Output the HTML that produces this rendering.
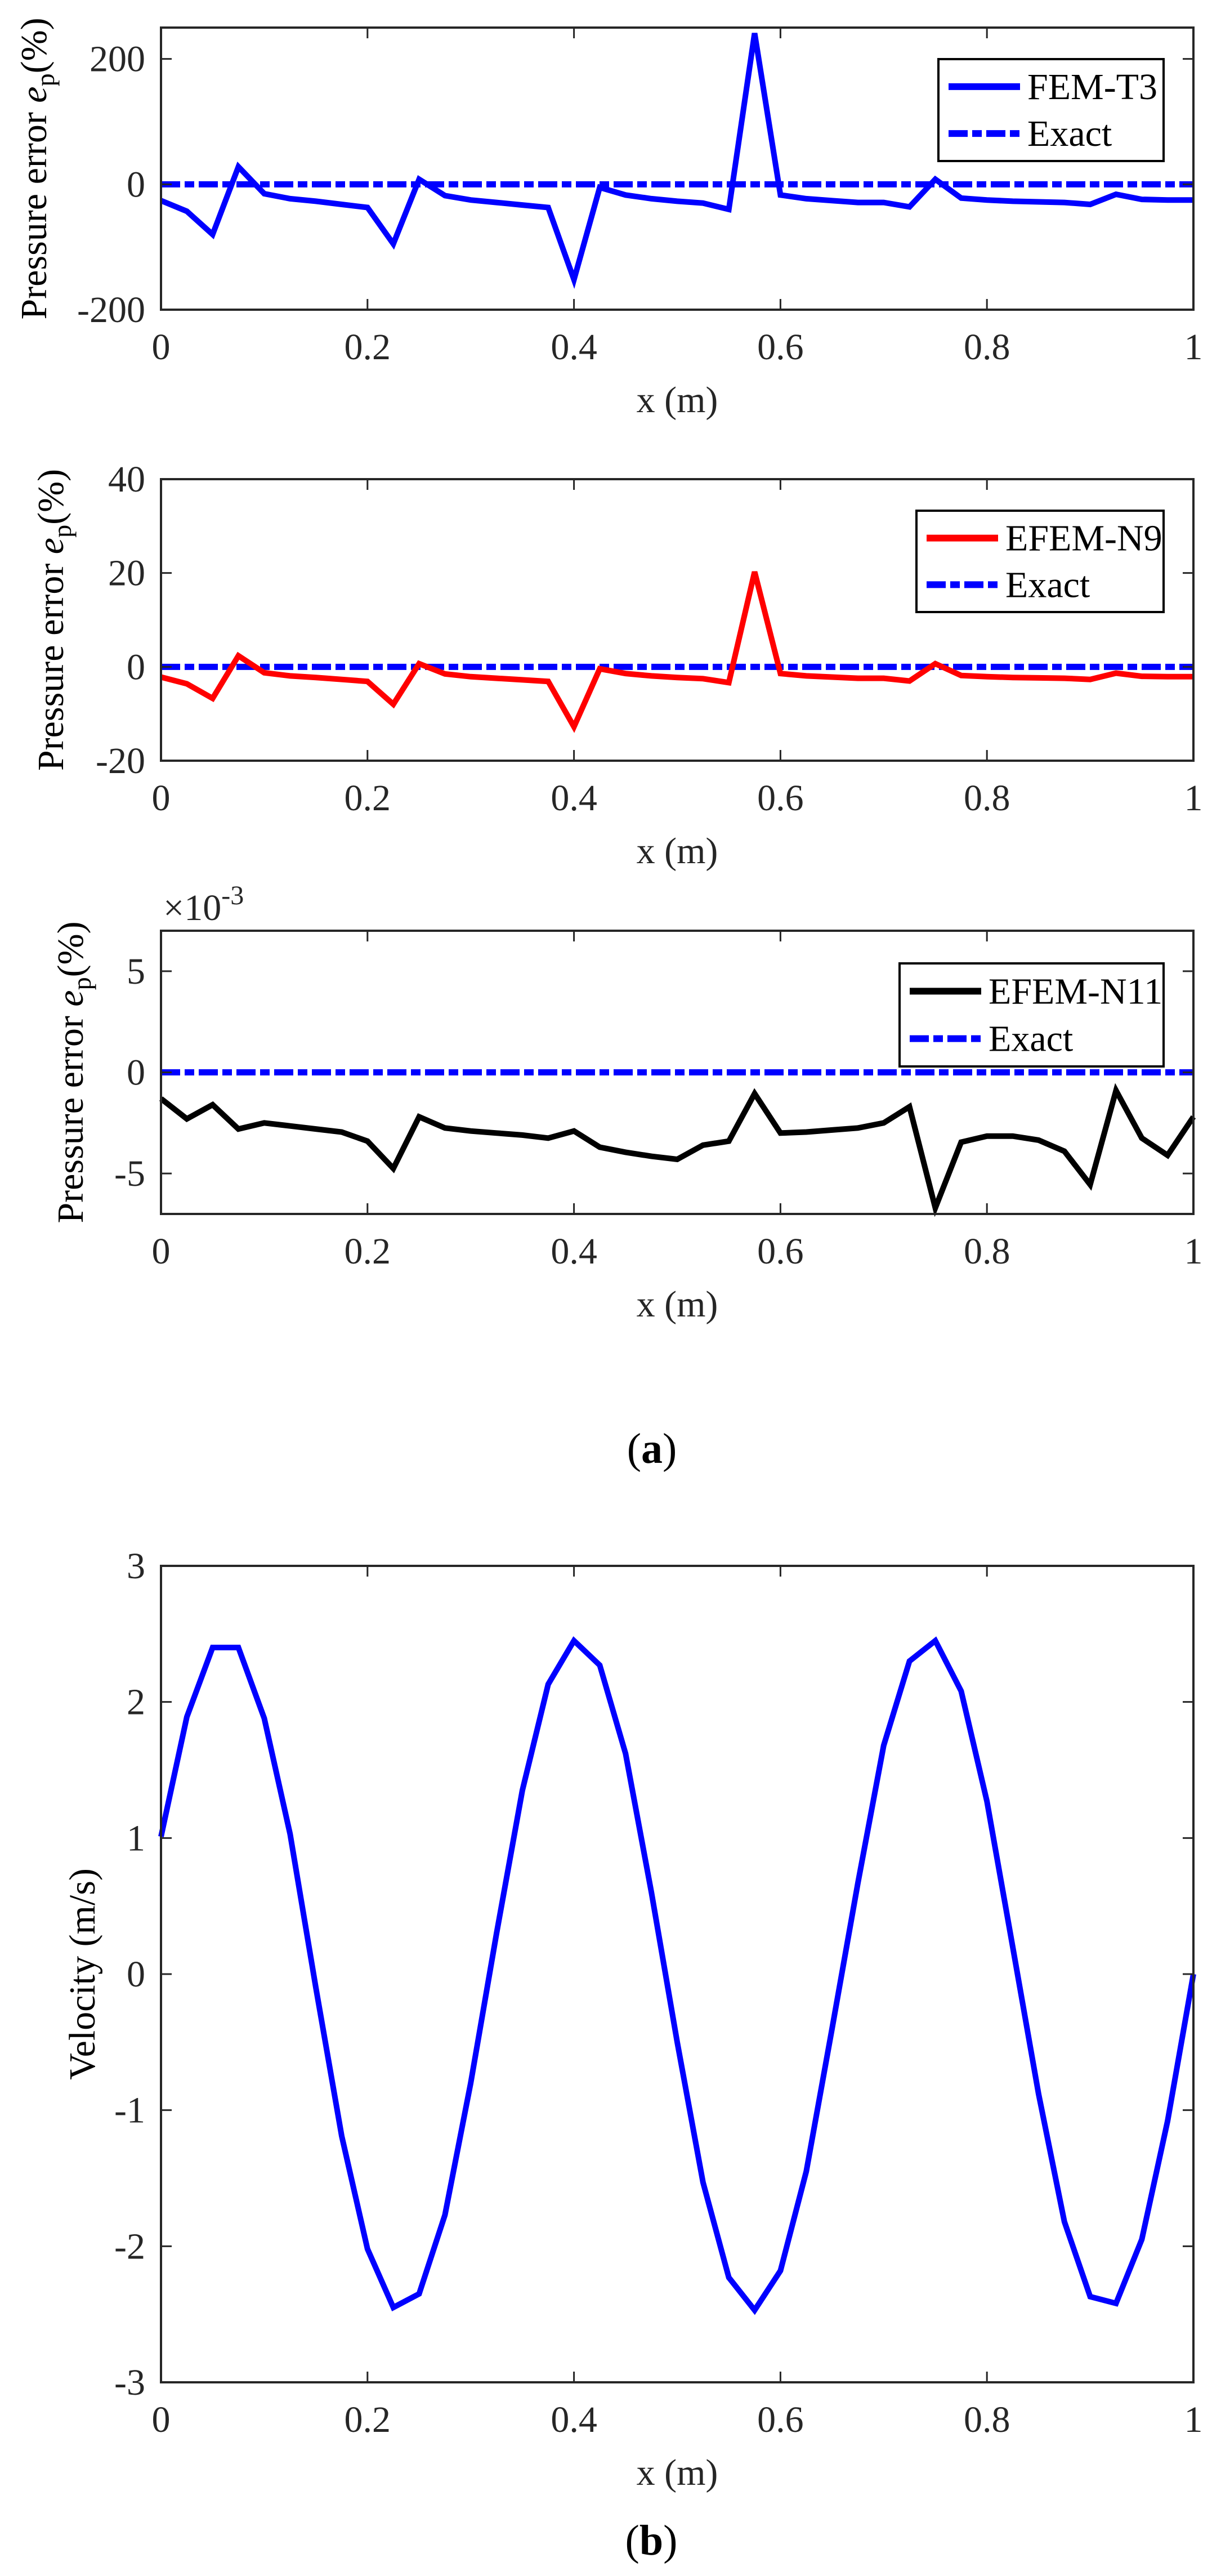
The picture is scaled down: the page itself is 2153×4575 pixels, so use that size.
<!DOCTYPE html>
<html><head><meta charset="utf-8"><style>
html,body{margin:0;padding:0;background:#fff;}
svg{display:block;}
text{font-family:"Liberation Serif",serif;fill:#262626;}
</style></head><body>
<svg id="s" xmlns="http://www.w3.org/2000/svg" width="2153" height="4575" viewBox="0 0 2153 4575"></svg>
<script>
const S=document.getElementById('s');
let out='';
const L=286,R=2120,W=R-L;
const T3=[-26,-43,-80,28,-15,-23,-27,-32,-37,-95,8,-18,-25,-29,-33,-37,-152,-5,-17,-23,-27,-30,-40,241,-17,-23,-26,-29,-29,-36,8,-22,-25,-27,-28,-29,-32,-16,-24,-25,-25];
const N9=T3.map(v=>v*0.084);
const N11=[-1.3,-2.3,-1.6,-2.8,-2.5,-2.65,-2.8,-2.95,-3.4,-4.75,-2.2,-2.75,-2.9,-3.0,-3.1,-3.25,-2.9,-3.7,-3.95,-4.15,-4.3,-3.6,-3.4,-1.05,-3.0,-2.95,-2.85,-2.75,-2.5,-1.7,-6.7,-3.45,-3.15,-3.15,-3.35,-3.9,-5.55,-0.9,-3.25,-4.1,-2.2];
const V=[1.01,1.89,2.4,2.4,1.88,1.03,-0.1,-1.19,-2.02,-2.45,-2.35,-1.77,-0.8,0.3,1.35,2.13,2.45,2.27,1.62,0.6,-0.5,-1.53,-2.23,-2.47,-2.18,-1.45,-0.4,0.67,1.68,2.3,2.45,2.08,1.27,0.2,-0.88,-1.82,-2.37,-2.42,-1.95,-1.08,0];
const FS=66;
function plot(o){
  const {top,bot,ymin,ymax,yt,data,color,leg,ylab,labx}=o;
  const Y=v=>bot-(v-ymin)/(ymax-ymin)*(bot-top);
  const X=x=>L+x*W;
  // exact line
  if(o.exact){out+=`<line x1="${L}" y1="${Y(0)}" x2="${R}" y2="${Y(0)}" stroke="#0000ff" stroke-width="11" stroke-dasharray="34 8 17 8"/>`;}
  // data
  let pts=data.map((v,i)=>X(i/40).toFixed(1)+','+Y(v).toFixed(1)).join(' ');
  out+=`<polyline points="${pts}" fill="none" stroke="${color}" stroke-width="10" stroke-linejoin="miter"/>`;
  // axes box
  out+=`<rect x="${L}" y="${top}" width="${W}" height="${bot-top}" fill="none" stroke="#262626" stroke-width="4"/>`;
  for(let k=0;k<=5;k++){const x=X(k*0.2);
    out+=`<line x1="${x}" y1="${bot}" x2="${x}" y2="${bot-19}" stroke="#262626" stroke-width="3"/>`;
    out+=`<line x1="${x}" y1="${top}" x2="${x}" y2="${top+19}" stroke="#262626" stroke-width="3"/>`;
    out+=`<text x="${x}" y="${bot+88}" font-size="${FS}" text-anchor="middle">${['0','0.2','0.4','0.6','0.8','1'][k]}</text>`;}
  yt.forEach(v=>{const y=Y(v);
    out+=`<line x1="${L}" y1="${y}" x2="${L+19}" y2="${y}" stroke="#262626" stroke-width="3"/>`;
    out+=`<line x1="${R}" y1="${y}" x2="${R-19}" y2="${y}" stroke="#262626" stroke-width="3"/>`;
    out+=`<text x="258" y="${y+22}" font-size="${FS}" text-anchor="end">${v<0?'-'+(-v):v}</text>`;});
  out+=`<text x="${(L+R)/2}" y="${bot+182}" font-size="${FS}" text-anchor="middle">x (m)</text>`;
  const cy=(top+bot)/2;
  out+=`<text transform="translate(${labx},${cy}) rotate(-90)" font-size="${FS}" text-anchor="middle" style="fill:#000">${ylab}</text>`;
  if(leg){const {x1,y1,y2,name}=leg;const x2=2067;
    out+=`<rect x="${x1}" y="${y1}" width="${x2-x1}" height="${y2-y1}" fill="#fff" stroke="#000" stroke-width="4"/>`;
    const r1=y1+(y2-y1)*0.27,r2=y1+(y2-y1)*0.73;
    const sx=x1+18;
    out+=`<line x1="${sx}" y1="${r1}" x2="${sx+127}" y2="${r1}" stroke="${color}" stroke-width="12"/>`;
    out+=`<line x1="${sx}" y1="${r2}" x2="${sx+127}" y2="${r2}" stroke="#0000ff" stroke-width="12" stroke-dasharray="34 8 17 8"/>`;
    out+=`<text x="${sx+140}" y="${r1+22}" font-size="${FS}" style="fill:#000">${name}</text>`;
    out+=`<text x="${sx+140}" y="${r2+22}" font-size="${FS}" style="fill:#000">Exact</text>`;}
}
const PL='Pressure error <tspan font-style="italic">e</tspan><tspan font-size="46" dy="14">p</tspan><tspan dy="-14">(%)</tspan>';
plot({top:49,bot:550,ymin:-200,ymax:250,yt:[-200,0,200],data:T3,color:'#0000ff',exact:1,leg:{x1:1667,y1:105,y2:286,name:'FEM-T3'},ylab:PL,labx:82});
plot({top:851,bot:1351,ymin:-20,ymax:40,yt:[-20,0,20,40],data:N9,color:'#ff0000',exact:1,leg:{x1:1628,y1:907,y2:1087,name:'EFEM-N9'},ylab:PL,labx:112});
plot({top:1653,bot:2156,ymin:-7,ymax:7,yt:[-5,0,5],data:N11,color:'#000000',exact:1,leg:{x1:1598,y1:1711,y2:1894,name:'EFEM-N11'},ylab:PL,labx:147});
out+=`<text x="290" y="1634" font-size="${FS}">×10<tspan font-size="48" dy="-28">-3</tspan></text>`;
plot({top:2781,bot:4231,ymin:-3,ymax:3,yt:[-3,-2,-1,0,1,2,3],data:V,color:'#0000ff',exact:0,leg:null,ylab:'Velocity (m/s)',labx:168});
out+=`<text x="1158" y="2598" font-size="76" text-anchor="middle" style="fill:#000">(<tspan font-weight="bold">a</tspan>)</text>`;
out+=`<text x="1157" y="4537" font-size="76" text-anchor="middle" style="fill:#000">(<tspan font-weight="bold">b</tspan>)</text>`;
S.innerHTML=out;
</script>
</body></html>
